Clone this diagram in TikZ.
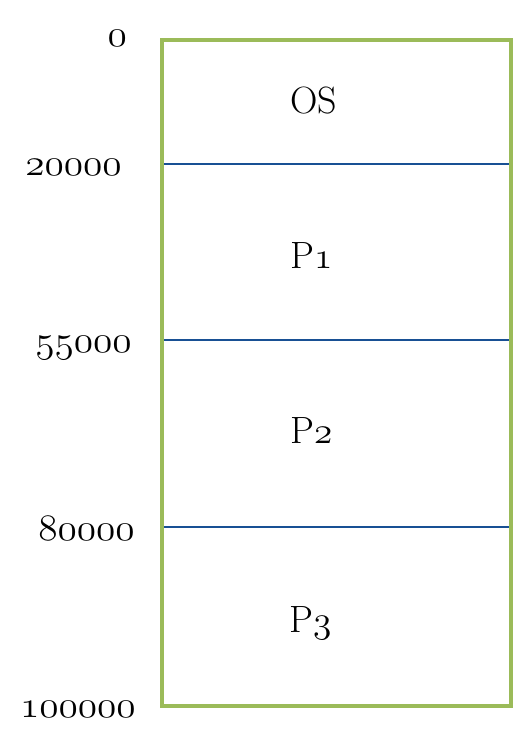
\documentclass[tikz,border=0pt]{standalone}
\usepackage{fontspec}
\definecolor{boxgreen}{RGB}{155,187,89}
\definecolor{lineblue}{RGB}{24,80,148}
\newcommand{\osn}[3]{\scalebox{#1}[#2]{\fontsize{20}{24}\usefont{OML}{lmm}{m}{it}#3}}
\begin{document}
\begin{tikzpicture}[x=1pt,y=-1pt,
  numlabel/.style={anchor=base east,inner sep=0pt},
  celllabel/.style={anchor=base west,inner sep=0pt,font=\fontsize{38}{42}\selectfont},
  divider/.style={draw=lineblue,line width=1.6pt}]
\useasboundingbox (0,0) rectangle (514,750);
\coordinate (tl) at (162,40);
\coordinate (br) at (511,706);
\coordinate (a1) at (162,164); \coordinate (b1) at (511,164);
\coordinate (a2) at (162,340); \coordinate (b2) at (511,340);
\coordinate (a3) at (162,527); \coordinate (b3) at (511,527);
\draw[divider] (a1) -- (b1);
\draw[divider] (a2) -- (b2);
\draw[divider] (a3) -- (b3);
\draw[boxgreen,line width=4.5pt] (tl) rectangle (br);
\node[numlabel] (n0) at (127,46) {\osn{1.9}{1.8}{0}};
\node[numlabel] (n1) at (122,175) {\osn{1.9}{1.8}{20000}};
\node[numlabel] (n2) at (132,352) {\osn{1.9}{1.8}{55000}};
\node[numlabel] (n3) at (135,540) {\osn{1.9}{1.8}{80000}};
\node[numlabel] (n4) at (136,717) {\osn{1.9}{1.8}{100000}};
\node[celllabel] (os) at (290,113) {OS};
\node[celllabel] (p1) at (290,268) {P\osn{1.8}{1.8}{1}};
\node[celllabel] (p2) at (290,443) {P\osn{1.8}{1.8}{2}};
\node[celllabel] (p3) at (289,632) {P\osn{1.8}{1.8}{3}};
\end{tikzpicture}
\end{document}
